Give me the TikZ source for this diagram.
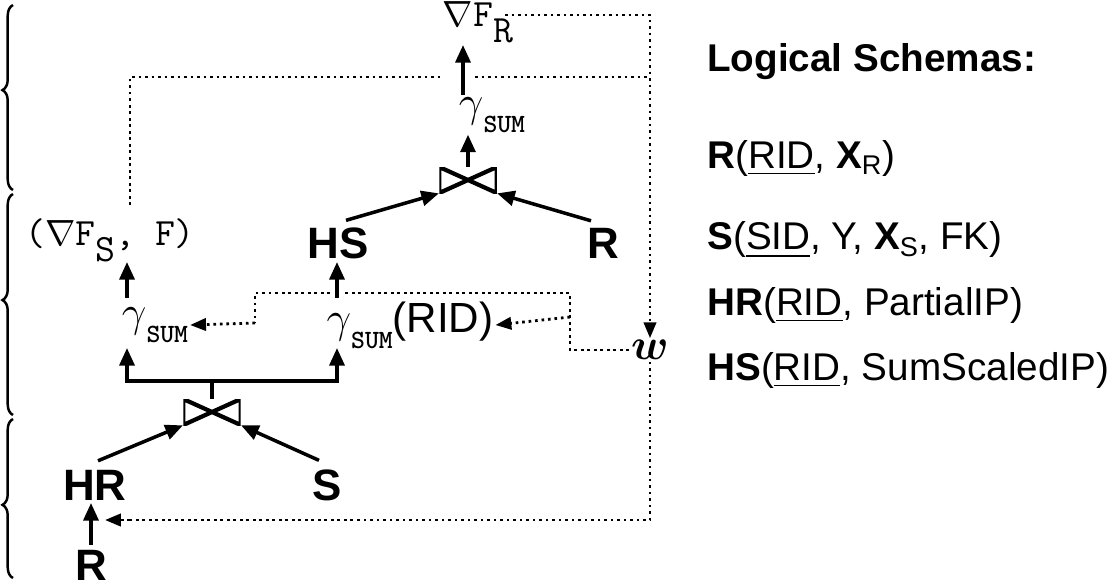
\documentclass[tikz,border=0pt]{standalone}
\usepackage{amsmath,amssymb}
\usepackage{fontspec}
\setmainfont{Liberation Sans}
\usetikzlibrary{arrows.meta,decorations.pathreplacing}
\begin{document}
\begin{tikzpicture}[x=0.02cm,y=-0.02cm,
  arr/.style={line width=2pt,-{Triangle[length=10pt,width=8.5pt]}},
  dot/.style={line width=1.6pt,dash pattern=on 1.5pt off 2.2pt},
  darr/.style={dot,-{Triangle[length=9pt,width=7pt]}},
  rel/.style={font=\fontsize{25}{25}\selectfont\bfseries,inner sep=1pt},
  gam/.style={inner sep=1pt,font=\fontsize{24}{24}\selectfont},
  mono/.style={inner sep=1pt,font=\fontsize{22}{22}\ttfamily},
  bowtie/.style={minimum width=1.15cm,minimum height=0.52cm,inner sep=0pt,
    path picture={\draw[line width=2.4pt] (path picture bounding box.north west)--(path picture bounding box.south west)--(path picture bounding box.north east)--(path picture bounding box.south east)--cycle;}},
  brc/.style={decorate,line width=1.4pt,decoration={brace,amplitude=6pt}},
  sch/.style={anchor=west,inner sep=0pt,font=\fontsize{22}{22}\selectfont}]
\useasboundingbox (0,0) rectangle (1111,583);
\clip (0,0) rectangle (1111,583);
\newcommand{\gsum}{{\fontsize{32}{32}\selectfont$\gamma$}\raisebox{-9pt}{\fontsize{15}{15}\ttfamily\bfseries SUM}}
% braces
\draw[brc,decoration={aspect=0.54}] (13,190)--(13,5);
\draw[brc,decoration={aspect=0.52}] (13,415)--(13,194);
\draw[brc,decoration={aspect=0.46}] (13,578)--(13,419);
% top tree
\node[mono] (gFR) at (478,22) {$\nabla$F\raisebox{-9pt}{R}};
\node[gam] (g1) at (492,115) {\gsum};
\node[bowtie] (j1) at (468,180) {};
\node[rel] (HS) at (338,243) {HS};
\node[rel] (R1) at (603,243) {R};
\draw[arr] (463,95) -- (463,45);
\draw[arr] (j1.north) -- ++(0,-32);
\draw[arr] (HS.north)++(8,-5) -- (j1.south west);
\draw[arr] (R1.north)++(-12,-5) -- (j1.south east);
% bottom tree
\node[mono] (gFS) at (110,240) {($\nabla$F\raisebox{-9pt}{S}, F)};
\node[gam] (g2) at (155,325) {\gsum};
\node[gam] (g3) at (410,325) {\gsum(RID)};
\node[bowtie] (j2) at (212,412) {};
\node[rel] (HR) at (95,485) {HR};
\node[rel] (S) at (327,485) {S};
\node[rel] (R2) at (91,565) {R};
\node[inner sep=1pt,font=\fontsize{24}{24}\selectfont] (w) at (650,350) {$\boldsymbol{w}$};
\coordinate (bar) at (212,381);
\draw[line width=2pt] (j2.north) -- (bar);
\draw[arr] (bar) -| (127,348);
\draw[arr] (bar) -| (337,348);
\draw[arr] (127,298) -- (127,262);
\draw[arr] (337,298) -- (337,262);
\draw[arr] (HR.north)++(3,-7) -- (j2.south west);
\draw[arr] (S.north)++(-8,-7) -- (j2.south east);
\draw[arr] (91,545) -- (91,503);
% dotted
\draw[dot] (130,205) |- (440,77);
\draw[dot] (475,77) -- (648,77);
\draw[darr] (505,15) -| (w.north);
\draw[dot] (w.south) |- (130,520);
\draw[darr] (130,520) -- (105,520);
\draw[dot] (w.west) -| (570,293) -- (345,293);
\draw[dot] (330,293) -| (255,323);
\draw[darr] (255,323) -- (g2.east);
\draw[darr] (570,317) -- (g3.east);
% schemas
\node[anchor=west,inner sep=0pt,font=\fontsize{22}{22}\selectfont\bfseries] (t) at (707,62) {Logical Schemas:};
\node[sch] (s1) at (707,158) {\textbf{R}(\underline{RID}, \textbf{X}\textsubscript{R})};
\node[sch] (s2) at (707,240) {\textbf{S}(\underline{SID}, Y, \textbf{X}\textsubscript{S}, FK)};
\node[sch] (s3) at (707,305) {\textbf{HR}(\underline{RID}, PartialIP)};
\node[sch] (s4) at (707,370) {\textbf{HS}(\underline{RID}, SumScaledIP)};
\end{tikzpicture}
\end{document}
